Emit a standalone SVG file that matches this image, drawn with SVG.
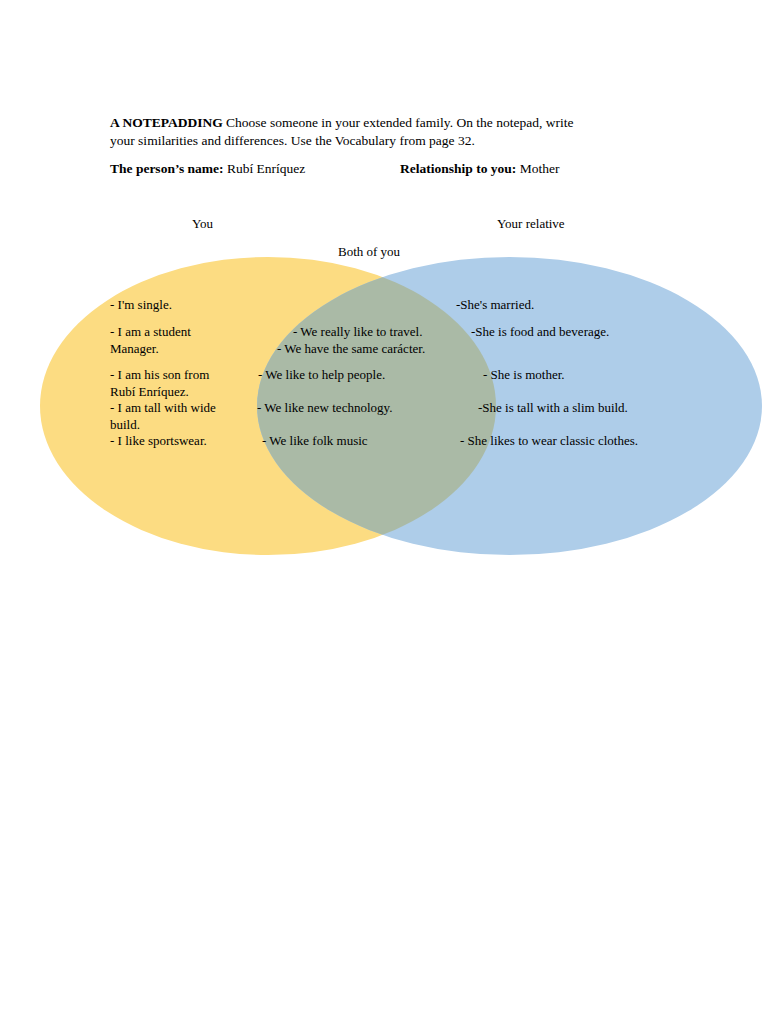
<svg xmlns="http://www.w3.org/2000/svg" width="768" height="1024" viewBox="0 0 768 1024">
<style>
text{font-family:"Liberation Serif",serif;font-size:13px;fill:#000}
.h{font-size:13.5px}
.b{font-weight:bold}
</style>
<defs>
<clipPath id="cy"><ellipse cx="268" cy="406" rx="228" ry="149"/></clipPath>
</defs>
<rect width="768" height="1024" fill="#fff"/>
<g id="header">
<text class="h" x="110" y="127"><tspan class="b">A NOTEPADDING</tspan> Choose someone in your extended family. On the notepad, write</text>
<text class="h" x="110" y="145">your similarities and differences. Use the Vocabulary from page 32.</text>
<text class="h" x="110" y="173"><tspan class="b">The person’s name:</tspan> Rubí Enríquez</text>
<text class="h" x="400" y="173"><tspan class="b">Relationship to you:</tspan> Mother</text>
</g>
<g id="you">
<ellipse cx="268" cy="406" rx="228" ry="149" fill="#FCDC82"/>
<text x="192" y="228">You</text>
</g>
<g id="relative">
<ellipse cx="509.5" cy="406" rx="252.5" ry="149" fill="#AECDE9"/>
<text x="497" y="228">Your relative</text>
</g>
<g id="both">
<ellipse cx="268" cy="406" rx="228" ry="149" fill="#FCDC82" clip-path="url(#none)" opacity="0"/>
<ellipse cx="509.5" cy="406" rx="252.5" ry="149" fill="#AABAA6" clip-path="url(#cy)"/>
<text x="338" y="256">Both of you</text>
</g>
<g id="texts">
<text x="110" y="309">- I'm single.</text>
<text x="110" y="336">- I am a student</text>
<text x="110" y="353">Manager.</text>
<text x="110" y="379">- I am his son from</text>
<text x="110" y="396">Rubí Enríquez.</text>
<text x="110" y="412">-  I am tall with wide</text>
<text x="110" y="429">build.</text>
<text x="110" y="445">- I like sportswear.</text>
<text x="293" y="336">- We really like to travel.</text>
<text x="277" y="353">-   We have the same carácter.</text>
<text x="258" y="379">-      We like to help people.</text>
<text x="257" y="412">- We like new technology.</text>
<text x="262" y="445">-    We like folk music</text>
<text x="456" y="309">-She's married.</text>
<text x="471" y="336">-She is food and beverage.</text>
<text x="483" y="379">- She is mother.</text>
<text x="478" y="412">-She is tall with a slim build.</text>
<text x="460" y="445">- She likes to wear classic clothes.</text>
</g>
</svg>
